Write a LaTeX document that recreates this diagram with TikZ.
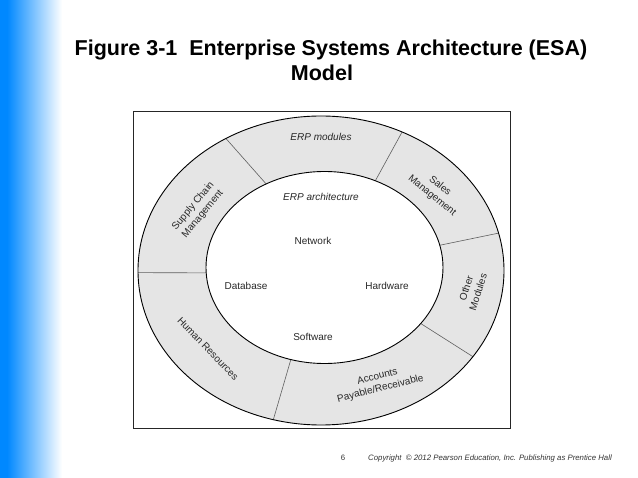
\documentclass[tikz,border=0pt]{standalone}
\usepackage{fontspec}
\setmainfont{Liberation Sans}
\usetikzlibrary{calc}
\definecolor{sideblue}{RGB}{0,136,255}
\definecolor{ringgray}{RGB}{229,229,229}
\definecolor{divgray}{RGB}{95,95,95}
\definecolor{txtgray}{RGB}{40,40,40}
\tikzset{
  titletext/.style={font=\fontsize{21.5}{24}\selectfont\bfseries, text=black, inner sep=0pt},
  lab/.style={font=\fontsize{10}{12.5}\selectfont, text=txtgray, inner sep=0pt, align=center},
  itlab/.style={lab, font=\fontsize{10}{12.5}\selectfont\itshape},
  ringline/.style={draw=black, line width=0.9pt},
  divider/.style={draw=divgray, line width=0.6pt},
  frame/.style={draw=black!85, line width=0.8pt},
  foot/.style={font=\fontsize{7.8}{9}\selectfont, text=black!80, inner sep=0pt}
}
\begin{document}
\begin{tikzpicture}[x=1pt,y=-1pt]
\useasboundingbox (0,0) rectangle (638,478);
\fill[white] (0,0) rectangle (638,478);
% left blue bar
\fill[sideblue] (0,0) rectangle (7,478);
\shade[left color=sideblue, right color=white] (7,0) rectangle (62,478);
% title
\node[titletext] (t1) at (331,50) {Figure 3-1\ \ Enterprise Systems Architecture (ESA)};
\node[titletext] (t2) at (322,73) {Model};
% frame
\draw[frame] (133,111) rectangle (510,428);
% ring
\coordinate (oc) at (321,270.5);
\coordinate (ic) at (324.5,267.5);
\fill[ringgray] (oc) ellipse [x radius=183pt, y radius=154.5pt];
\fill[white] (ic) ellipse [x radius=118.5pt, y radius=96pt];
% dividers
\draw[divider] ($(oc)+(121.3:183pt and 154.5pt)$) -- ($(ic)+(119.5:118.5pt and 96pt)$);
\draw[divider] ($(oc)+(63.7:183pt and 154.5pt)$) -- ($(ic)+(64.6:118.5pt and 96pt)$);
\draw[divider] ($(oc)+(14:183pt and 154.5pt)$) -- ($(ic)+(13.4:118.5pt and 96pt)$);
\draw[divider] ($(oc)+(-33.9:183pt and 154.5pt)$) -- ($(ic)+(-35.7:118.5pt and 96pt)$);
\draw[divider] ($(oc)+(-105.1:183pt and 154.5pt)$) -- ($(ic)+(-106.5:118.5pt and 96pt)$);
\draw[divider] ($(oc)+(180.8:183pt and 154.5pt)$) -- ($(ic)+(183.2:118.5pt and 96pt)$);
% outlines
\draw[ringline] (oc) ellipse [x radius=183pt, y radius=154.5pt];
\draw[ringline] (ic) ellipse [x radius=118.5pt, y radius=96pt];
% ring labels
\node[itlab] (erpm) at (321,137) {ERP modules};
\node[lab, rotate=50] (scm) at (198,210) {Supply Chain\\Management};
\node[lab, rotate=-39] (sales) at (436,191) {Sales\\Management};
\node[lab, rotate=72] (other) at (472,290) {Other\\Modules};
\node[lab, rotate=14] (acc) at (379,383) {Accounts\\Payable/Receivable};
\node[lab, rotate=-46] (hr) at (208,349) {Human Resources};
% inner labels
\node[itlab] (erpa) at (321,197) {ERP architecture};
\node[lab] (net) at (313,241) {Network};
\node[lab] (db) at (246,286) {Database};
\node[lab] (hw) at (387,286) {Hardware};
\node[lab] (sw) at (313,337) {Software};
% footer
\node[foot] (pg) at (343,458) {6};
\node[foot, anchor=west, font=\fontsize{7.8}{9}\selectfont\itshape] (copy) at (368,458) {Copyright\ \ \textcopyright\ 2012 Pearson Education, Inc. Publishing as Prentice Hall};
\end{tikzpicture}
\end{document}
